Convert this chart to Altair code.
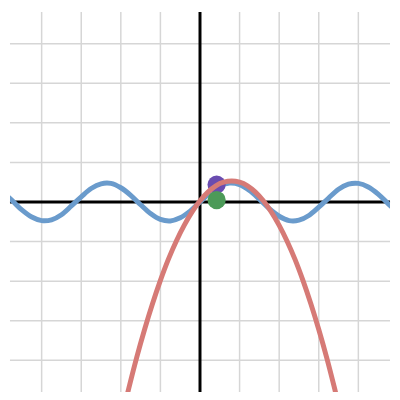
import altair as alt
import pandas as pd

# Blue wave (units)
blue_x = [-5, -4.75, -4.5, -4.25, -4, -3.75, -3.5, -3.25, -3, -2.75, -2.5, -2.25, -2, -1.75,
          -1.5, -1.25, -1, -0.75, -0.5, -0.25, 0, 0.25, 0.5, 0.75, 1, 1.25, 1.5, 1.75, 2,
          2.25, 2.5, 2.75, 3, 3.25, 3.5, 3.75, 4, 4.25, 4.5, 4.75, 5]
blue_y = [0.26, 0.04, -0.20, -0.38, -0.47, -0.45, -0.32, -0.10, 0.13, 0.34, 0.46, 0.47, 0.36, 0.17,
          -0.07, -0.29, -0.44, -0.48, -0.40, -0.23, 0.0, 0.23, 0.40, 0.48, 0.44, 0.29, 0.07, -0.17, -0.36,
          -0.47, -0.46, -0.34, -0.13, 0.10, 0.32, 0.45, 0.47, 0.38, 0.20, -0.04, -0.26]

# Red parabola (units)
red_x = [-2.0, -1.8, -1.6, -1.4, -1.2, -1.0, -0.8, -0.6, -0.4, -0.2, 0.0, 0.2, 0.4, 0.6, 0.8,
         1.0, 1.2, 1.4, 1.6, 1.8, 2.0, 2.2, 2.4, 2.6, 2.8, 3.0, 3.2, 3.4, 3.6]
red_y = [-5.55, -4.71, -3.93, -3.22, -2.57, -1.98, -1.45, -0.99, -0.59, -0.25, 0.03, 0.25, 0.41, 0.50, 0.53,
         0.50, 0.41, 0.25, 0.03, -0.25, -0.59, -0.99, -1.45, -1.98, -2.57, -3.22, -3.93, -4.71, -5.55]

# Points
purple_pt = {"x": [0.42], "y": [0.44]}
green_pt = {"x": [0.42], "y": [0.05]}

grid_vals = [-4, -3, -2, -1, 1, 2, 3, 4]

xs = alt.Scale(domain=[-4.8, 4.8], nice=False, zero=False)
ys = alt.Scale(domain=[-4.8, 4.8], nice=False, zero=False)

grid_df = pd.DataFrame({"g": grid_vals})
vgrid = alt.Chart(grid_df).mark_rule(color="#d6d6d6", strokeWidth=1.5).encode(
    x=alt.X("g:Q", scale=xs, axis=None))
hgrid = alt.Chart(grid_df).mark_rule(color="#d6d6d6", strokeWidth=1.5).encode(
    y=alt.Y("g:Q", scale=ys, axis=None))

zero_df = pd.DataFrame({"z": [0]})
vaxis = alt.Chart(zero_df).mark_rule(color="#000000", strokeWidth=3).encode(
    x=alt.X("z:Q", scale=xs, axis=None))
haxis = alt.Chart(zero_df).mark_rule(color="#000000", strokeWidth=3).encode(
    y=alt.Y("z:Q", scale=ys, axis=None))

blue = alt.Chart(pd.DataFrame({"x": blue_x, "y": blue_y})).mark_line(
    color="#6a9bcc", strokeWidth=5, interpolate="catmull-rom", clip=True,
    strokeCap="round").encode(
    x=alt.X("x:Q", scale=xs, axis=None), y=alt.Y("y:Q", scale=ys, axis=None))

red = alt.Chart(pd.DataFrame({"x": red_x, "y": red_y})).mark_line(
    color="#d67a76", strokeWidth=5, interpolate="catmull-rom", clip=True,
    strokeCap="round").encode(
    x=alt.X("x:Q", scale=xs, axis=None), y=alt.Y("y:Q", scale=ys, axis=None))

purple = alt.Chart(pd.DataFrame(purple_pt)).mark_circle(
    color="#6a4cb0", size=340, opacity=1).encode(
    x=alt.X("x:Q", scale=xs, axis=None), y=alt.Y("y:Q", scale=ys, axis=None))
green = alt.Chart(pd.DataFrame(green_pt)).mark_circle(
    color="#4c9a58", size=340, opacity=1).encode(
    x=alt.X("x:Q", scale=xs, axis=None), y=alt.Y("y:Q", scale=ys, axis=None))

chart = alt.layer(vgrid, hgrid, vaxis, haxis, blue, purple, green, red).properties(
    width=384, height=384, padding=0, background="white"
).configure_view(stroke=None)

chart.save("out.html", embed_options={"renderer": "svg", "actions": False})
